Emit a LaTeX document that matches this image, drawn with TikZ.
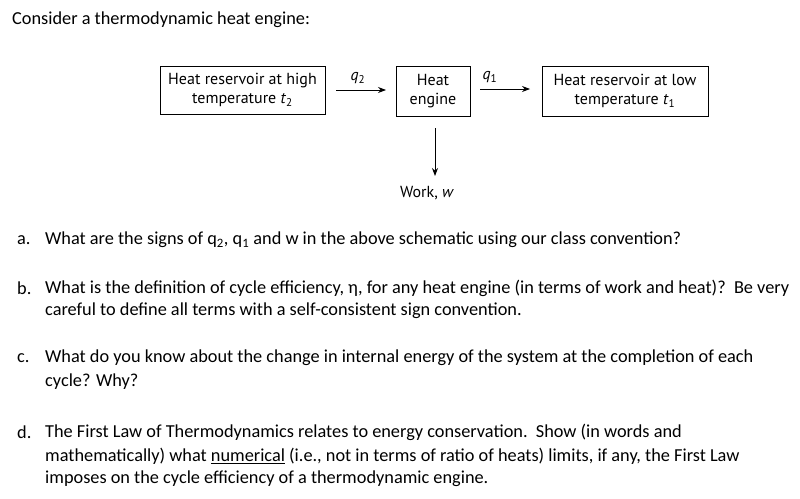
\documentclass[tikz,border=0pt]{standalone}
\usepackage{fontspec}
\usetikzlibrary{arrows.meta}
\setmainfont{Carlito}
\newfontfamily\dfont{PT Sans}
\begin{document}
\begin{tikzpicture}[x=1pt,y=-1pt,
  txt/.style={anchor=west,inner sep=0pt,font=\fontsize{18.3}{21}\selectfont},
  box/.style={draw,line width=0.8pt,align=center,inner sep=0pt,font=\dfont\fontsize{16}{19}\selectfont},
  lab/.style={inner sep=0pt,font=\dfont\fontsize{16}{19}\selectfont},
  arr/.style={-{Stealth[length=8pt,width=6pt]},line width=0.8pt}]
\useasboundingbox (0,0) rectangle (800,498);
\node[txt] (t0) at (12,20) {Consider a thermodynamic heat engine:};
\node[box,minimum width=165,minimum height=48] (hot) at (242.5,90) {Heat reservoir at high\\temperature \textit{t}\textsubscript{2}};
\node[box,minimum width=74,minimum height=50] (eng) at (433,91) {Heat\\engine};
\node[box,minimum width=166,minimum height=50] (cold) at (625,91) {Heat reservoir at low\\temperature \textit{t}\textsubscript{1}};
\coordinate (a1) at (336,90); \coordinate (a2) at (386,90);
\coordinate (b1) at (480,89); \coordinate (b2) at (530,89);
\draw[arr] (a1) -- (a2);
\node[lab] (q2) at (358,78) {\textit{q}\textsubscript{2}};
\draw[arr] (b1) -- (b2);
\node[lab] (q1) at (490,77) {\textit{q}\textsubscript{1}};
\node[lab] (work) at (427,193) {Work, \textit{w}};
\coordinate (c1) at (435,128); \coordinate (c2) at (435,176);
\draw[arr] (c1) -- (c2);
\node[txt] (la) at (17,240) {a.};
\node[txt] (ta) at (45,240) {What are the signs of q\textsubscript{2}, q\textsubscript{1} and w in the above schematic using our class convention?};
\node[txt] (lb) at (17,288) {b.};
\node[txt] (tb1) at (45,288) {What is the definition of cycle efficiency, η, for any heat engine (in terms of work and heat)?\ \ Be very};
\node[txt] (tb2) at (45,311) {careful to define all terms with a self-consistent sign convention.};
\node[txt] (lc) at (17,358) {c.};
\node[txt] (tc1) at (45,358) {What do you know about the change in internal energy of the system at the completion of each};
\node[txt] (tc2) at (45,382) {cycle? Why?};
\node[txt] (ld) at (17,432) {d.};
\node[txt] (td1) at (45,432) {The First Law of Thermodynamics relates to energy conservation.\ \ Show (in words and};
\node[txt] (td2) at (45,456) {mathematically) what \underline{numerical} (i.e., not in terms of ratio of heats) limits, if any, the First Law};
\node[txt] (td3) at (45,479) {imposes on the cycle efficiency of a thermodynamic engine.};
\end{tikzpicture}
\end{document}
